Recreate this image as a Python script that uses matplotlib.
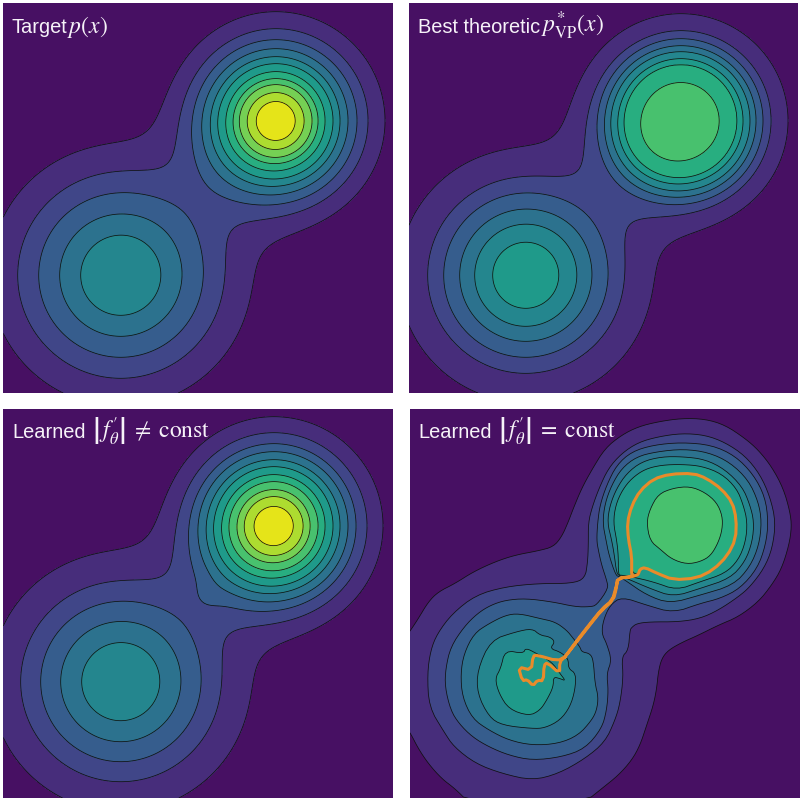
import numpy as np
import matplotlib
matplotlib.use("Agg")
import matplotlib.pyplot as plt

plt.rcParams['font.family'] = ['Liberation Sans', 'DejaVu Sans']
plt.rcParams['mathtext.fontset'] = 'stix'

# contour radii in pixels, outermost level first
target_upper = [109, 92, 81, 72, 64, 57, 49, 42, 36, 28, 19]
target_lower = [131, 103, 82, 61, 40]
theory_upper = [107, 90, 82, 75, 69, 62, 56, 38]
theory_lower = [127, 98, 82, 66, 51, 33]
learned_upper = [109, 93, 82, 74, 66, 59, 51, 44, 36, 29, 19]
learned_lower = [130, 100, 80, 60, 39]

# blob centres in figure pixels
target_centres = [(276, 120.7), (120.7, 275.3)]
theory_centres = [(681, 120.7), (525.7, 275.3)]
learned_centres = [(274, 525.7), (120.7, 681.7)]
# small lump on the third panel, lower left of the upper blob: x, y, height, width
learned_lump = (207, 597, 0.35, 12)

# last panel: contours (units are 1/3 px, origin 405,405)
ring1 = [(5, 690), (17, 675), (40, 640), (70, 590), (100, 560), (150, 535), (205, 500), (270, 470), (330, 450),
         (400, 437), (445, 425), (470, 395), (490, 350), (505, 310), (530, 250), (560, 195), (600, 130), (650, 90),
         (700, 65), (760, 50), (830, 40), (900, 42), (960, 60), (1020, 100), (1060, 135), (1100, 185), (1135, 250),
         (1155, 320), (1160, 365), (1152, 420), (1130, 490), (1100, 540), (1060, 590), (1000, 635), (940, 660),
         (880, 690), (830, 712), (790, 735), (770, 760), (760, 800), (755, 850), (745, 900), (725, 960), (705, 1020),
         (680, 1065), (640, 1110), (590, 1150), (540, 1190), (190, 1190), (150, 1150), (110, 1120), (70, 1075),
         (40, 1030), (17, 985), (5, 970)]
ring2 = [(540, 520), (548, 470), (550, 420), (550, 352), (562, 305), (582, 250), (610, 190), (650, 145), (700, 112),
         (760, 95), (830, 85), (900, 90), (960, 112), (1020, 152), (1065, 208), (1095, 275), (1112, 350), (1102, 430),
         (1077, 490), (1035, 545), (1000, 575), (940, 615), (885, 640), (820, 650), (735, 650), (695, 655), (680, 667),
         (675, 675), (670, 735), (650, 755), (655, 815), (645, 895), (630, 945), (600, 1010), (540, 1060), (460, 1105),
         (382, 1125), (292, 1105), (212, 1075), (147, 1025), (117, 980), (72, 905), (67, 805), (77, 735), (97, 685),
         (142, 625), (212, 570), (300, 545), (400, 535), (500, 535)]
ring3 = [(605, 525), (590, 480), (580, 435), (575, 405), (578, 352), (585, 300), (605, 240), (635, 180), (680, 140),
         (745, 120), (830, 112), (920, 120), (990, 152), (1045, 208), (1080, 275), (1090, 350), (1082, 420), (1057, 490),
         (1005, 550), (945, 580), (885, 595), (805, 623), (725, 600), (650, 575), (615, 600), (595, 645), (590, 685),
         (605, 715), (620, 765), (605, 805), (610, 855), (605, 915), (590, 970), (540, 1030), (470, 1055), (382, 1065),
         (312, 1050), (252, 1025), (202, 995), (162, 955), (137, 915), (120, 845), (122, 790), (137, 725), (177, 665),
         (217, 625), (257, 600), (302, 585), (362, 580), (442, 590), (512, 605), (555, 605), (575, 600), (610, 550)]
ring4_up = [(632, 510), (612, 450), (603, 405), (593, 352), (600, 295), (620, 240), (650, 190), (695, 155), (755, 140),
            (835, 132), (910, 142), (975, 172), (1030, 225), (1060, 290), (1070, 350), (1062, 420), (1035, 485),
            (985, 540), (885, 570), (795, 595), (725, 570), (660, 525), (643, 515)]
ring4_low = [(405, 640), (450, 650), (485, 675), (505, 700), (525, 725), (530, 740), (555, 745), (565, 765), (570, 835),
             (580, 875), (575, 915), (560, 945), (520, 990), (460, 1015), (382, 1020), (312, 1005), (252, 975),
             (202, 940), (172, 875), (167, 805), (177, 745), (207, 685), (252, 655), (302, 630), (342, 625)]
ring5_up = [(635, 505), (628, 450), (620, 405), (607, 352), (615, 300), (635, 250), (665, 205), (710, 170), (770, 155),
            (835, 155), (900, 163), (960, 193), (1012, 245), (1035, 300), (1047, 350), (1042, 410), (1020, 470),
            (975, 520), (885, 550), (805, 575), (735, 550), (670, 522), (645, 512)]
ring5_low = [(382, 670), (405, 690), (435, 695), (450, 710), (435, 730), (465, 740), (490, 760), (490, 790), (513, 805),
             (510, 855), (495, 905), (465, 945), (420, 968), (382, 970), (292, 960), (252, 935), (217, 865), (217, 795),
             (257, 705), (332, 680)]
ring6_up = [(640, 510), (640, 450), (635, 405), (625, 352), (632, 300), (652, 255), (680, 220), (720, 192), (770, 180),
            (830, 178), (890, 183), (950, 206), (995, 250), (1015, 300), (1027, 350), (1022, 410), (1000, 465),
            (960, 505), (885, 530), (815, 555), (745, 530), (680, 515), (650, 510)]
ring6_low = [(270, 820), (287, 790), (300, 735), (355, 745), (362, 728), (395, 745), (440, 770), (465, 805), (482, 827),
             (465, 820), (445, 815), (445, 845), (425, 885), (405, 915), (372, 932), (312, 912), (282, 865)]
ring7 = [(680, 502), (680, 452), (670, 402), (667, 352), (680, 302), (705, 257), (745, 222), (795, 207), (865, 205),
         (905, 220), (950, 252), (982, 292), (994, 342), (992, 402), (967, 452), (925, 494), (875, 519), (805, 524),
         (755, 504), (720, 487), (705, 492), (700, 507)]
ring8 = [(725, 352), (735, 312), (760, 267), (805, 249), (855, 244), (900, 262), (935, 292), (952, 332), (952, 372),
         (940, 412), (917, 452), (885, 470), (845, 477), (800, 462), (765, 432), (735, 407)]

learned_rings = [(1, ring1), (2, ring2), (3, ring3), (4, ring4_up), (4, ring4_low), (5, ring5_up), (5, ring5_low),
                 (6, ring6_up), (6, ring6_low), (7, ring7), (8, ring8)]

# orange trajectory, same units
path_low = [(480, 755), (457, 767), (397, 750), (384, 752), (379, 795), (340, 785), (352, 827), (367, 823), (384, 842),
            (397, 825), (415, 827), (417, 780), (427, 772), (464, 805), (464, 770), (480, 755)]
path_neck_up = [(515, 710), (550, 665), (590, 615), (625, 585), (635, 545), (637, 520), (680, 515), (695, 510), (700, 507)]
path_neck_down = [(682, 515), (640, 518), (632, 550), (622, 585), (590, 612), (550, 662), (515, 707), (480, 755)]

# panel title: sans part, maths part, and the x of each in pixels from the panel edge
title_words = ["Target", "Best theoretic", "Learned", "Learned"]
title_maths = ["$p(x)$", "$p^{*}_{\\mathrm{VP}}(x)$",
               "$\\left|\\,f^{\\prime}_{\\theta}\\right|\\;\\neq\\;\\mathrm{const}$",
               "$\\left|\\,f^{\\prime}_{\\theta}\\right|\\;=\\;\\mathrm{const}$"]
word_x = [8.5, 9, 9, 7.5]
maths_x = [64, 132, 89, 88]

boxes = [(3.3, 3.5, 393, 393), (409, 3.5, 798, 393), (3.3, 409, 393, 798), (410.5, 409, 800, 798)]

W, H = 804, 801
N_LEVELS = 12
levels = np.arange(0, N_LEVELS + 1)
LINE_W = 0.55
LINE_C = '#101010'


def profile(r, radii):
    # radii are for levels 1,2,3.. so ln(level) is piecewise linear in r^2
    r2 = np.array(radii, dtype=float) ** 2
    lnk = np.log(np.arange(1, len(radii) + 1))
    slope_out = (lnk[1] - lnk[0]) / (r2[1] - r2[0])
    slope_in = (lnk[-1] - lnk[-2]) / (r2[-1] - r2[-2])
    x = r ** 2
    out = np.interp(x, r2[::-1], lnk[::-1])
    out = np.where(x > r2[0], slope_out * (x - r2[0]), out)
    out = np.where(x < r2[-1], lnk[-1] + slope_in * (x - r2[-1]), out)
    # stay below the next level inside the last ring
    return np.minimum(np.exp(out), len(radii) + 0.9)


def add_axes(box):
    x0, y0, x1, y1 = box
    return fig.add_axes([x0 / W, 1 - y1 / H, (x1 - x0) / W, (y1 - y0) / H])


def draw_field(ax, box, centres, upper, lower, lump=None):
    x0, y0, x1, y1 = box
    xs = np.linspace(x0, x1, 500)
    ys = np.linspace(y0, y1, 500)
    X, Y = np.meshgrid(xs, ys)
    ru = np.hypot(X - centres[0][0], Y - centres[0][1])
    rl = np.hypot(X - centres[1][0], Y - centres[1][1])
    Z = profile(ru, upper) + profile(rl, lower)
    if lump is not None:
        Z = Z + lump[2] * np.exp(-((X - lump[0]) ** 2 + (Y - lump[1]) ** 2) / (2 * lump[3] ** 2))
    ax.contourf(X, Y, Z, levels=levels, cmap='viridis', vmin=0, vmax=N_LEVELS, extend='max')
    ax.contour(X, Y, Z, levels=levels[1:], colors=LINE_C, linewidths=LINE_W)
    ax.set_xlim(x0, x1)
    ax.set_ylim(y1, y0)


def smooth(pts, rounds=2, closed=True):
    # corner cutting, the traced rings are only rough polygons
    p = np.array(pts, dtype=float)
    for i in range(rounds):
        q = np.roll(p, -1, axis=0) if closed else p[1:]
        a = p if closed else p[:-1]
        new = np.empty((len(a) * 2, 2))
        new[0::2] = 0.75 * a + 0.25 * q
        new[1::2] = 0.25 * a + 0.75 * q
        p = new if closed else np.vstack([p[0], new, p[-1]])
    return p


fig = plt.figure(figsize=(W / 100, H / 100), dpi=100, facecolor='white')

axes = [add_axes(b) for b in boxes]
draw_field(axes[0], boxes[0], target_centres, target_upper, target_lower)
draw_field(axes[1], boxes[1], theory_centres, theory_upper, theory_lower)
draw_field(axes[2], boxes[2], learned_centres, learned_upper, learned_lower, learned_lump)

# last panel is drawn from the traced rings
ax = axes[3]
cmap = plt.get_cmap('viridis')
ax.set_facecolor(cmap(0.5 / N_LEVELS))
for k, ring in learned_rings:
    pts = smooth(ring)
    ax.fill(pts[:, 0], pts[:, 1], facecolor=cmap((k + 0.5) / N_LEVELS), edgecolor=LINE_C, linewidth=LINE_W)

path = path_low + path_neck_up + [(705, 492), (720, 487)] + ring7[::-1][3:] + [ring7[0]] + path_neck_down
path = smooth(path, rounds=1, closed=False)
ax.plot(path[:, 0], path[:, 1], color='#e98b2a', linewidth=2.2, solid_joinstyle='round')
ax.set_xlim(16.5, 1185)
ax.set_ylim(1178, 12)

for i, ax in enumerate(axes):
    ax.set_xticks([])
    ax.set_yticks([])
    for s in ax.spines.values():
        s.set_visible(False)
    x0, y0, x1, y1 = boxes[i]
    ax.text(word_x[i] / (x1 - x0), 0.925, title_words[i], transform=ax.transAxes, color='#f6f2f8',
            fontsize=14.4, va='baseline')
    ax.text(maths_x[i] / (x1 - x0), 0.925, title_maths[i], transform=ax.transAxes, color='#f6f2f8',
            fontsize=17, va='baseline')

fig.savefig('out.png', dpi=100)
